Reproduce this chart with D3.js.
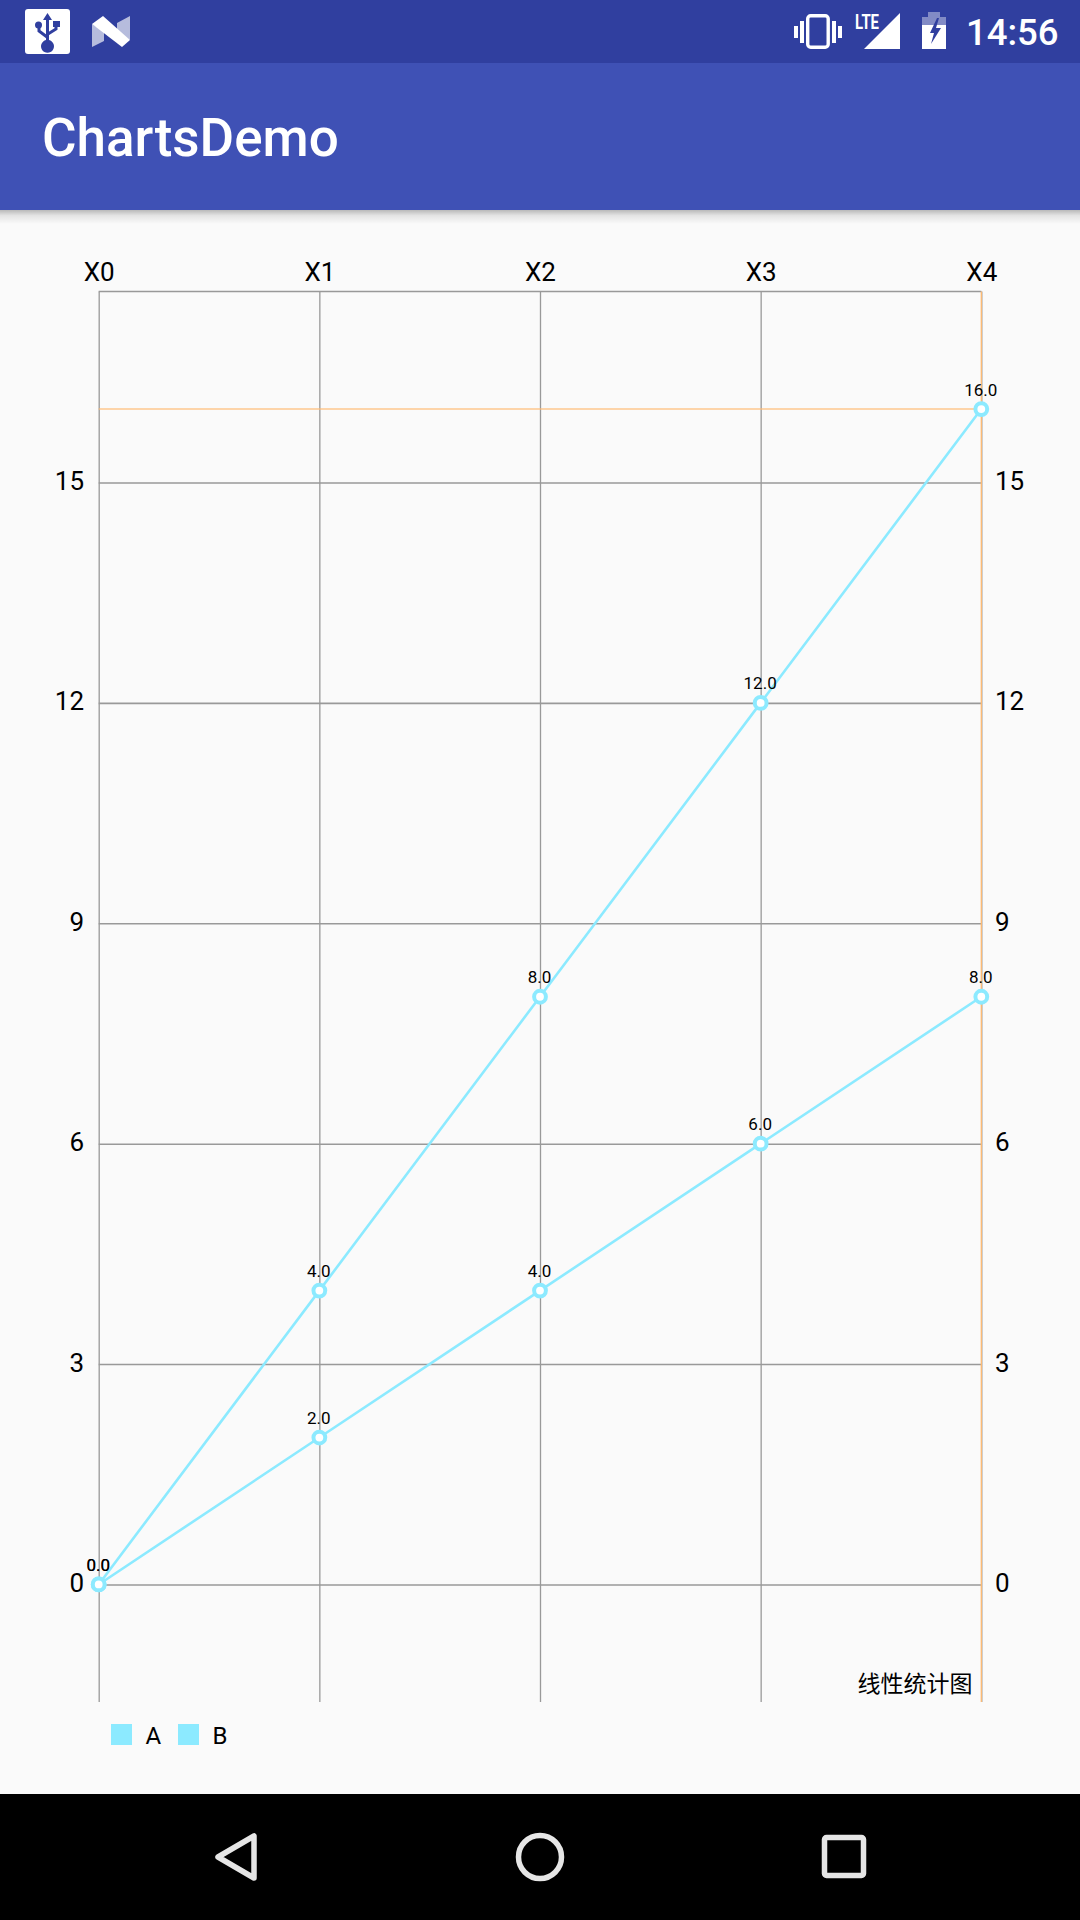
<!DOCTYPE html>
<html>
<head>
<meta charset="utf-8">
<script src="https://d3js.org/d3.v7.min.js"></script>
<style>
  html, body { margin: 0; padding: 0; background: #fafafa; }
  svg { display: block; }
  text { font-family: Roboto, sans-serif; fill: #000; }
  .axis path { display: none; }
  .axis line { stroke: #999; }
  .xgrid line { stroke-width: 1.3; }
  .ygrid line { stroke-width: 1.6; }
</style>
</head>
<body>
<svg width="1080" height="1920"></svg>
<script>
var categories = ["X0", "X1", "X2", "X3", "X4"];
var seriesA = [0, 4, 8, 12, 16];
var seriesB = [0, 2, 4, 6, 8];
var yTicks = [0, 3, 6, 9, 12, 15];
var yDomain = [-1.6, 17.6];
var legendNames = ["A", "B"];
var highlightIndex = 4;
var chartTitle = "线性统计图";

function main() {
    var svg = d3.select("svg");
    var lineColor = "#8ceaff", highColor = "#ffbb73";

    var left = 98.7, right = 981.3, top = 291.5, bottom = 1702;

    var xScale = d3.scalePoint().domain(categories).range([left, right]);
    var yScale = d3.scaleLinear().domain(yDomain).range([bottom, top]);

    // page chrome
    var defs = svg.append("defs");
    var grad = defs.append("linearGradient").attr("id", "shadow")
        .attr("x1", 0).attr("y1", 0).attr("x2", 0).attr("y2", 1);
    grad.append("stop").attr("offset", 0).attr("stop-color", "#000").attr("stop-opacity", 0.26);
    grad.append("stop").attr("offset", 0.4).attr("stop-color", "#000").attr("stop-opacity", 0.09);
    grad.append("stop").attr("offset", 1).attr("stop-color", "#000").attr("stop-opacity", 0);

    svg.append("rect").attr("width", 1080).attr("height", 1920).attr("fill", "#fafafa");
    svg.append("rect").attr("y", 210).attr("width", 1080).attr("height", 14).attr("fill", "url(#shadow)");
    svg.append("rect").attr("y", 63).attr("width", 1080).attr("height", 147).attr("fill", "#3f51b5");
    svg.append("rect").attr("width", 1080).attr("height", 63).attr("fill", "#303f9f");
    svg.append("rect").attr("y", 1794).attr("width", 1080).attr("height", 126).attr("fill", "#000");

    svg.append("text").attr("x", 42).attr("y", 156)
        .style("font-size", "53px").style("font-weight", 500).style("fill", "#fff")
        .text("ChartsDemo");

    drawStatusBar(svg);
    drawNavBar(svg);

    // axes + grid
    svg.append("g").attr("class", "axis xgrid")
        .attr("transform", "translate(0," + top + ")")
        .call(d3.axisTop(xScale).tickSize(top - bottom).tickPadding(0).tickFormat(""))
        .call(function(g) { g.selectAll("text").remove(); });

    svg.append("g").attr("class", "axis ygrid")
        .attr("transform", "translate(" + left + ",0)")
        .call(d3.axisLeft(yScale).tickValues(yTicks).tickSize(left - right).tickFormat(""))
        .call(function(g) { g.selectAll("text").remove(); });

    svg.append("line").attr("stroke", "#999").attr("stroke-width", 1.6)
        .attr("x1", left).attr("x2", right).attr("y1", top).attr("y2", top);

    svg.append("g").selectAll("text").data(categories).enter().append("text")
        .attr("x", function(d) { return xScale(d) + 0.5; })
        .attr("y", 281)
        .attr("text-anchor", "middle")
        .style("font-size", "26px")
        .text(function(d) { return d; });

    svg.append("g").selectAll("text").data(yTicks).enter().append("text")
        .attr("x", 84)
        .attr("y", function(d) { return yScale(d) + 7.5; })
        .attr("text-anchor", "end")
        .style("font-size", "26px")
        .text(function(d) { return d; });

    svg.append("g").selectAll("text").data(yTicks).enter().append("text")
        .attr("x", 995)
        .attr("y", function(d) { return yScale(d) + 7.5; })
        .style("font-size", "26px")
        .text(function(d) { return d; });

    // highlight crosshair on the last point of A
    var hx = xScale(categories[highlightIndex]), hy = yScale(seriesA[highlightIndex]);
    svg.append("line").attr("stroke", highColor).attr("stroke-width", 1.3)
        .attr("x1", hx).attr("x2", hx).attr("y1", top).attr("y2", bottom);
    svg.append("line").attr("stroke", highColor).attr("stroke-width", 1.6).attr("stroke-opacity", 0.8)
        .attr("x1", left).attr("x2", right).attr("y1", hy).attr("y2", hy);

    // series
    var line = d3.line()
        .x(function(d, i) { return xScale(categories[i]); })
        .y(function(d) { return yScale(d); });

    [seriesB, seriesA].forEach(function(values) {
        svg.append("path").datum(values)
            .attr("fill", "none").attr("stroke", lineColor).attr("stroke-width", 2.6)
            .attr("d", line);

        svg.append("g").selectAll("circle").data(values).enter().append("circle")
            .attr("cx", function(d, i) { return xScale(categories[i]); })
            .attr("cy", function(d) { return yScale(d); })
            .attr("r", 5.9)
            .attr("fill", "#fff")
            .attr("stroke", lineColor).attr("stroke-width", 4);

        svg.append("g").selectAll("text").data(values).enter().append("text")
            .attr("x", function(d, i) { return xScale(categories[i]) - 0.5; })
            .attr("y", function(d) { return yScale(d) - 13.5; })
            .attr("text-anchor", "middle")
            .style("font-size", "17px")
            .text(function(d) { return d.toFixed(1); });
    });

    // chart description
    svg.append("text").attr("x", 972.5).attr("y", 1692)
        .attr("text-anchor", "end")
        .style("font-family", "'Noto Sans CJK SC'")
        .style("font-size", "23px")
        .text(chartTitle);

    // legend
    var legend = svg.append("g").selectAll("g").data(legendNames).enter().append("g")
        .attr("transform", function(d, i) { return "translate(" + (111 + i * 67) + ",1724)"; });
    legend.append("rect").attr("width", 21).attr("height", 21).attr("fill", lineColor);
    legend.append("text").attr("x", 34.5).attr("y", 20)
        .style("font-size", "24px")
        .text(function(d) { return d; });
}

function drawStatusBar(svg) {
    var bar = "#303f9f";
    // usb notification
    svg.append("rect").attr("x", 25).attr("y", 9).attr("width", 45).attr("height", 45)
        .attr("rx", 3).attr("fill", "#fff");
    svg.append("path").attr("fill", bar)
        .attr("d", "M47.5 13 L52 20 L49 20 L49 40 A6.5 6.5 0 1 1 46 40 L46 20 L43 20 Z");
    svg.append("path").attr("fill", "none").attr("stroke", bar).attr("stroke-width", 3)
        .attr("d", "M39 26 L39 31 L47 37 M56 26 L56 29 L48 34");
    svg.append("circle").attr("cx", 38.5).attr("cy", 25).attr("r", 3.5).attr("fill", bar);
    svg.append("rect").attr("x", 53).attr("y", 21).attr("width", 7).attr("height", 6).attr("fill", bar);

    // N logo
    svg.append("path").attr("fill", "#fff").attr("fill-opacity", 0.65)
        .attr("d", "M92 24 L104 31 L104 41 L92 47 Z M117 23 L130 16 L130 40 L117 33 Z");
    svg.append("path").attr("fill", "#fff")
        .attr("d", "M92 24 L103 16 L130 40 L122 47 Z");

    // vibrate
    svg.append("rect").attr("x", 807.7).attr("y", 15.7).attr("width", 20.5).attr("height", 31.5)
        .attr("rx", 3).attr("fill", "none").attr("stroke", "#fff").attr("stroke-width", 3.4);
    svg.append("path").attr("fill", "#fff")
        .attr("d", "M794 26h4v12h-4z M800 21h4v22h-4z M832 21h4v22h-4z M838 26h4v12h-4z");

    // signal + LTE
    svg.append("path").attr("fill", "#fff").attr("d", "M900 13 L900 49 L864 49 Z");
    svg.append("text").attr("x", 855).attr("y", 29)
        .attr("textLength", 24).attr("lengthAdjust", "spacingAndGlyphs")
        .style("font-size", "21px").style("font-weight", 700).style("fill", "#fff")
        .text("LTE");

    // battery
    svg.append("path").attr("fill", "#fff").attr("fill-opacity", 0.4)
        .attr("d", "M922 17 h6 v-5 h12 v5 h6 v8 h-24 Z");
    svg.append("rect").attr("x", 922).attr("y", 25).attr("width", 24).attr("height", 24).attr("fill", "#fff");
    svg.append("path").attr("fill", bar)
        .attr("d", "M937 18 L930 33 L934 33 L931 44 L941 28 L936 28 L939 18 Z");

    svg.append("text").attr("x", 966).attr("y", 45)
        .style("font-size", "36.5px").style("font-weight", 500).style("fill", "#fff")
        .text("14:56");
}

function drawNavBar(svg) {
    var c = "#e6e6e6";
    svg.append("path").attr("fill", "none").attr("stroke", c).attr("stroke-width", 5.5)
        .attr("stroke-linejoin", "round")
        .attr("d", "M254 1836 L254 1878 L218 1857 Z");
    svg.append("circle").attr("cx", 540).attr("cy", 1857).attr("r", 21.5)
        .attr("fill", "none").attr("stroke", c).attr("stroke-width", 5.5);
    svg.append("rect").attr("x", 824.5).attr("y", 1837.5).attr("width", 39).attr("height", 38)
        .attr("rx", 2).attr("fill", "none").attr("stroke", c).attr("stroke-width", 5.5);
}

main();
</script>
</body>
</html>
